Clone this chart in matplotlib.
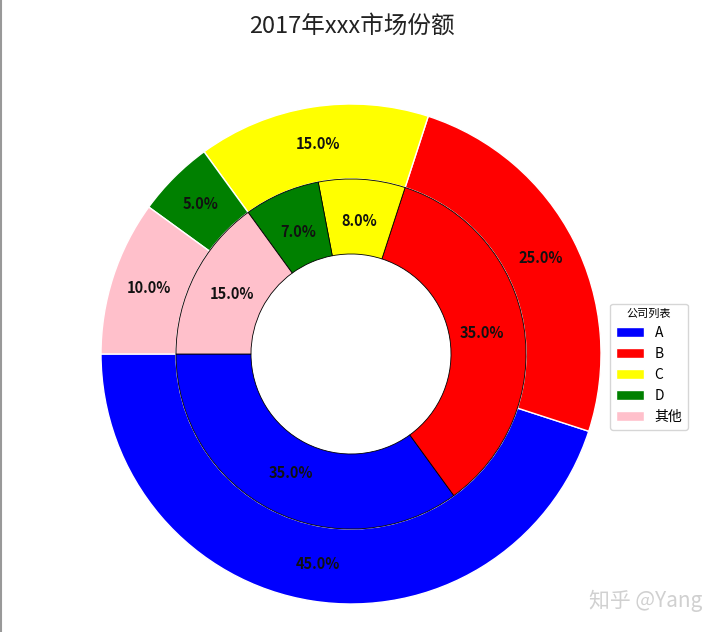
import matplotlib
matplotlib.use("Agg")
import matplotlib.pyplot as plt
from matplotlib.lines import Line2D

plt.rcParams['font.family'] = ['Noto Sans CJK SC', 'DejaVu Sans']

# 数据
etiquetas = ['A', 'B', 'C', 'D', '其他']
cuota_exterior = [45, 25, 15, 5, 10]
cuota_interior = [35, 35, 8, 7, 15]
colores = ['blue', 'red', 'yellow', 'green', 'pink']

fig = plt.figure(figsize=(7.2, 6.32), dpi=100)
ax = fig.add_axes([0, 0, 1, 1])

# anillo exterior
wedges, textos, autotextos = ax.pie(
    cuota_exterior, colors=colores, radius=1.0, startangle=180,
    autopct='%.1f%%', pctdistance=0.85,
    wedgeprops=dict(width=0.3, edgecolor='w', linewidth=1))

# anillo interior
wedges2, textos2, autotextos2 = ax.pie(
    cuota_interior, colors=colores, radius=0.7, startangle=180,
    autopct='%.1f%%', pctdistance=0.76,
    wedgeprops=dict(width=0.3, edgecolor='k', linewidth=0.6))

for t in autotextos + autotextos2:
    t.set_fontsize(10.5)
    t.set_fontweight('bold')
    t.set_color('#111111')

# centro del grafico en (351, 354) px, radio 250 px
ax.set_xlim(-351 / 250, 369 / 250)
ax.set_ylim(-278 / 250, 354 / 250)
ax.set_aspect('equal')
ax.axis('off')

fig.text(0.489, 0.959, '2017年xxx市场份额', ha='center', va='center',
         fontsize=17, color='#222222')

leg = fig.legend(wedges, etiquetas, title='公司列表', loc='center left',
                 bbox_to_anchor=(0.838, 0.42), fontsize=10, title_fontsize=8)

# marca de agua y borde
fig.text(0.975, 0.05, '知乎 @Yang', ha='right', va='center',
         fontsize=15, color='#d0d0d0')
fig.add_artist(Line2D([0.002, 0.002], [0, 1], transform=fig.transFigure,
                      color='#999999', linewidth=1.5))

plt.savefig('out.png', dpi=100)
plt.close()
